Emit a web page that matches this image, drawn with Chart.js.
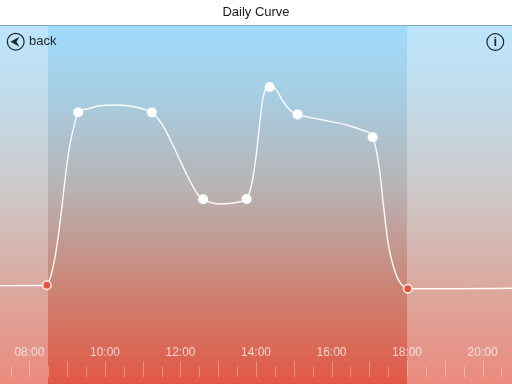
<!DOCTYPE html>
<html>
<head>
<meta charset="utf-8">
<style>html,body{margin:0;padding:0;background:#fff}canvas{display:block}</style>
<script src="https://cdn.jsdelivr.net/npm/chart.js@4"></script>
</head>
<body>
<canvas id="c" width="512" height="384"></canvas>
<script>
const titleText = "Daily Curve";
const backText = "back";
const labelHours = [8, 10, 12, 14, 16, 18, 20];
const halfHourTicks = [7.5, 8, 8.5, 9, 9.5, 10, 10.5, 11, 11.5, 12, 12.5, 13, 13.5, 14, 14.5, 15, 15.5, 16, 16.5, 17, 17.5, 18, 18.5, 19, 19.5, 20, 20.5];
const activeStart = 8.49, activeEnd = 18.0;
const axisMin = 7.22, axisMax = 20.78;
const curveHours = [7.22, 8.46, 8.56, 8.68, 8.76, 8.85, 8.91, 8.99, 9.07, 9.21, 9.29, 9.52, 9.79, 10.21, 10.66, 11.01, 11.24, 11.55, 11.86, 12.17, 12.47, 12.60, 12.83, 13.09, 13.34, 13.58, 13.75, 13.89, 14.00, 14.08, 14.19, 14.36, 14.50, 14.72, 14.95, 15.10, 15.78, 16.40, 16.80, 17.09, 17.21, 17.30, 17.36, 17.42, 17.50, 17.64, 17.80, 18.02, 19.38, 20.78];
const curveLevels = [18.36, 18.49, 21.16, 27.45, 33.74, 42.14, 48.43, 56.29, 62.58, 69.91, 72.86, 73.90, 74.75, 75.16, 74.84, 73.90, 72.83, 68.33, 61.01, 53.14, 46.86, 45.50, 44.40, 44.03, 44.25, 44.75, 45.60, 50.53, 58.90, 67.30, 77.77, 80.82, 80.41, 76.19, 73.05, 72.20, 70.44, 68.87, 67.30, 65.00, 59.43, 52.11, 45.28, 38.99, 31.67, 24.31, 19.59, 17.39, 17.39, 17.52];
const handleHours = [9.29, 11.24, 12.60, 13.75, 14.36, 15.10, 17.09];
const handleLevels = [72.86, 72.83, 45.50, 45.60, 80.82, 72.20, 65.00];
const edgeHours = [8.46, 18.02];
const edgeLevels = [18.49, 17.39];

const toXY = (xs, ys) => xs.map((x, i) => ({x, y: ys[i]}));
const pad = n => String(n).padStart(2, "0") + ":00";
const UI = '"Liberation Sans", Arial, sans-serif';

const backdrop = {
  id: "backdrop",
  beforeDraw(chart) {
    const {ctx, width, height, chartArea, scales} = chart;
    const top = chartArea.top;
    ctx.save();
    ctx.fillStyle = "#ffffff";
    ctx.fillRect(0, 0, width, top);
    const g = ctx.createLinearGradient(0, top, 0, height);
    g.addColorStop(0, "#9fdbfb");
    g.addColorStop(0.2, "#a7cde2");
    g.addColorStop(0.46, "#b8b2b2");
    g.addColorStop(0.75, "#ce8171");
    g.addColorStop(1, "#e35845");
    ctx.fillStyle = g;
    ctx.fillRect(0, top, width, height - top);
    ctx.fillStyle = "rgba(255,255,255,0.3)";
    const a = scales.x.getPixelForValue(activeStart), b = scales.x.getPixelForValue(activeEnd);
    ctx.fillRect(0, top, a, height - top);
    ctx.fillRect(b, top, width - b, height - top);
    ctx.fillStyle = "#7ea6bd";
    ctx.fillRect(0, top - 1, width, 1);
    ctx.restore();
  }
};

const decor = {
  id: "decor",
  afterDraw(chart) {
    const {ctx, scales} = chart;
    ctx.save();
    ctx.lineWidth = 1;
    ctx.strokeStyle = "rgba(255,255,255,0.32)";
    halfHourTicks.forEach(h => {
      const x = Math.round(scales.x.getPixelForValue(h)) + 0.5;
      const major = Number.isInteger(h);
      ctx.beginPath();
      ctx.moveTo(x, major ? 361 : 366.5);
      ctx.lineTo(x, 377);
      ctx.stroke();
    });
    const ink = "#1c2429";
    ctx.strokeStyle = ink;
    ctx.fillStyle = ink;
    ctx.lineWidth = 1.2;
    ctx.beginPath(); ctx.arc(15.7, 41.7, 8.4, 0, Math.PI * 2); ctx.stroke();
    ctx.beginPath();
    ctx.moveTo(10.5, 41.7); ctx.lineTo(19.5, 36.7); ctx.lineTo(16.5, 41.7); ctx.lineTo(19.5, 46.7);
    ctx.closePath(); ctx.fill();
    ctx.beginPath(); ctx.arc(495.3, 42, 8.4, 0, Math.PI * 2); ctx.stroke();
    ctx.font = "13px " + UI;
    ctx.textBaseline = "middle";
    ctx.textAlign = "left";
    ctx.fillText(backText, 29, 41.5);
    ctx.font = "bold 13px " + UI;
    ctx.textAlign = "center";
    ctx.fillText("i", 495.3, 42);
    ctx.restore();
  }
};

new Chart(document.getElementById("c"), {
  type: "line",
  data: {
    datasets: [
      {
        label: "Edge points",
        data: toXY(edgeHours, edgeLevels),
        showLine: false,
        pointRadius: 4.2,
        pointBorderWidth: 1.6,
        pointBackgroundColor: "#e4533f",
        pointBorderColor: "#fbe9e6"
      },
      {
        label: "Handles",
        data: toXY(handleHours, handleLevels),
        showLine: false,
        pointRadius: 5,
        pointBorderWidth: 0,
        pointBackgroundColor: "#ffffff"
      },
      {
        label: "Curve",
        data: toXY(curveHours, curveLevels),
        borderColor: "rgba(255,255,255,0.95)",
        borderWidth: 1.4,
        pointRadius: 0,
        cubicInterpolationMode: "monotone",
        fill: false
      }
    ]
  },
  options: {
    responsive: false,
    animation: false,
    layout: {padding: 0, autoPadding: false},
    plugins: {
      legend: {display: false},
      tooltip: {enabled: false},
      title: {
        display: true,
        text: titleText,
        color: "#1a1a1a",
        font: {family: UI, size: 13, weight: "normal"},
        padding: {top: 5, bottom: 5.4}
      }
    },
    scales: {
      x: {
        type: "linear",
        min: axisMin,
        max: axisMax,
        position: "bottom",
        border: {display: false},
        grid: {display: false, drawTicks: false},
        afterBuildTicks(s) { s.ticks = labelHours.map(value => ({value})); },
        afterFit(s) { s.height = 40; s.paddingLeft = 0; s.paddingRight = 0; },
        ticks: {
          autoSkip: false,
          maxRotation: 0,
          padding: 1,
          color: "rgba(255,255,255,0.72)",
          font: {family: UI, size: 12},
          callback: v => pad(v)
        }
      },
      y: {
        display: false,
        min: 0,
        max: 100
      }
    }
  },
  plugins: [backdrop, decor]
});
</script>
</body>
</html>
